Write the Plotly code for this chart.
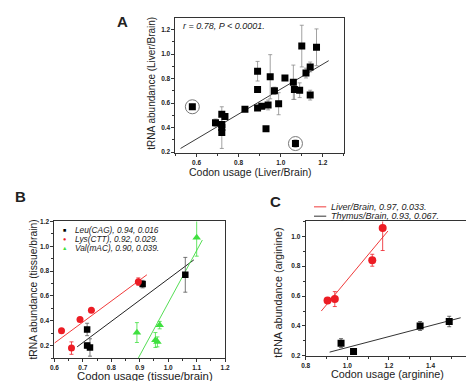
import plotly.graph_objects as go

W, H = 474, 381
FONT = "Liberation Sans, Arial, sans-serif"

def px(x):
    return x / W

def py(y):
    return 1 - y / H

# ---------------- Panel A data ----------------
a_x = [0.69, 0.72, 0.735, 0.72, 0.72, 0.72, 0.83, 0.89, 0.89, 0.89, 0.91, 0.93,
       0.94, 0.95, 0.97, 0.99, 1.02, 1.06, 1.065, 1.09, 1.10, 1.12, 1.14, 1.14, 1.17]
a_y = [0.44, 0.51, 0.49, 0.425, 0.40, 0.36, 0.55, 0.86, 0.71, 0.56, 0.575, 0.39,
       0.585, 0.815, 0.70, 0.595, 0.805, 0.77, 0.71, 0.705, 1.065, 0.845, 0.895, 0.665, 1.055]
a_err = [0.03, 0.06, 0.02, 0.02, 0.02, 0.13, 0.015, 0.08, 0.0, 0.02, 0.01, 0.01,
         0.04, 0.18, 0.03, 0.09, 0.02, 0.14, 0.08, 0.06, 0.17, 0.04, 0.04, 0.04, 0.15]
a_out_x = [0.58, 1.07]
a_out_y = [0.57, 0.27]
a_out_err = [0.02, 0.03]
a_fit_x = [0.524, 1.228]
a_fit_y = [0.23, 0.946]
a_xticks = [0.6, 0.8, 1.0, 1.2]
a_yticks = [0.2, 0.4, 0.6, 0.8, 1.0, 1.2]

# ---------------- Panel B data ----------------
b_leu_x = [0.715, 0.715, 0.725, 0.91, 1.06]
b_leu_y = [0.33, 0.20, 0.185, 0.695, 0.77]
b_leu_e = [0.05, 0.02, 0.07, 0.03, 0.14]
b_lys_x = [0.625, 0.66, 0.69, 0.73, 0.895]
b_lys_y = [0.32, 0.18, 0.41, 0.485, 0.715]
b_lys_e = [0.0, 0.05, 0.0, 0.0, 0.03]
b_val_x = [0.89, 0.955, 0.962, 0.97, 1.10]
b_val_y = [0.305, 0.245, 0.23, 0.365, 1.07]
b_val_e = [0.08, 0.06, 0.04, 0.03, 0.15]
b_leu_fit_x = [0.68, 1.09]
b_leu_fit_y = [0.19, 0.89]
b_lys_fit_x = [0.60, 0.925]
b_lys_fit_y = [0.22, 0.77]
b_val_fit_x = [0.895, 1.12]
b_val_fit_y = [0.10, 1.05]
b_xticks = [0.6, 0.7, 0.8, 0.9, 1.0, 1.1, 1.2]
b_yticks = [0.2, 0.4, 0.6, 0.8, 1.0, 1.2]
b_legend = ["Leu(CAG), 0.94, 0.016", "Lys(CTT), 0.92, 0.029.", "Val(mAC), 0.90, 0.039."]

# ---------------- Panel C data ----------------
c_liv_x = [0.905, 0.94, 1.12, 1.17]
c_liv_y = [0.57, 0.58, 0.84, 1.055]
c_liv_e = [0.0, 0.05, 0.04, 0.15]
c_thy_x = [0.97, 1.03, 1.35, 1.49]
c_thy_y = [0.285, 0.23, 0.40, 0.43]
c_thy_e = [0.03, 0.0, 0.03, 0.035]
c_liv_fit_x = [0.875, 1.195]
c_liv_fit_y = [0.50, 1.035]
c_thy_fit_x = [0.915, 1.545]
c_thy_fit_y = [0.225, 0.455]
c_xticks = [0.8, 1.0, 1.2, 1.4, 1.6]
c_yticks = [0.2, 0.4, 0.6, 0.8, 1.0]
c_legend = ["Liver/Brain, 0.97, 0.033.", "Thymus/Brain, 0.93, 0.067."]

RED = "#ec1c24"
GREEN = "#3fe03f"
GREY = "#8a8a8a"

fig = go.Figure()

def err(arr, color, w=2):
    return dict(type="data", array=arr, color=color, thickness=0.8, width=w, visible=True)

# Panel A
fig.add_trace(go.Scatter(x=a_fit_x, y=a_fit_y, mode="lines", line=dict(color="#222", width=0.9),
                         xaxis="x", yaxis="y", showlegend=False))
fig.add_trace(go.Scatter(x=a_x, y=a_y, mode="markers", error_y=err(a_err, GREY),
                         marker=dict(symbol="square", size=7, color="black"),
                         xaxis="x", yaxis="y", showlegend=False))
fig.add_trace(go.Scatter(x=a_out_x, y=a_out_y, mode="markers", error_y=err(a_out_err, GREY),
                         marker=dict(symbol="square", size=7, color="black"),
                         xaxis="x", yaxis="y", showlegend=False))
fig.add_trace(go.Scatter(x=a_out_x, y=a_out_y, mode="markers",
                         marker=dict(symbol="circle-open", size=14, color="#777", line=dict(width=1)),
                         xaxis="x", yaxis="y", showlegend=False))

# Panel B
for fx, fy, col in [(b_lys_fit_x, b_lys_fit_y, "#f03a3a"), (b_leu_fit_x, b_leu_fit_y, "#222"),
                    (b_val_fit_x, b_val_fit_y, "#55dd55")]:
    fig.add_trace(go.Scatter(x=fx, y=fy, mode="lines", line=dict(color=col, width=1),
                             xaxis="x2", yaxis="y2", showlegend=False))
fig.add_trace(go.Scatter(x=b_leu_x, y=b_leu_y, mode="markers", error_y=err(b_leu_e, "#555"),
                         marker=dict(symbol="square", size=6.5, color="black"),
                         xaxis="x2", yaxis="y2", showlegend=False))
fig.add_trace(go.Scatter(x=b_lys_x, y=b_lys_y, mode="markers", error_y=err(b_lys_e, RED),
                         marker=dict(symbol="circle", size=7, color=RED),
                         xaxis="x2", yaxis="y2", showlegend=False))
fig.add_trace(go.Scatter(x=b_val_x, y=b_val_y, mode="markers", error_y=err(b_val_e, GREEN),
                         marker=dict(symbol="triangle-up", size=7.5, color=GREEN),
                         xaxis="x2", yaxis="y2", showlegend=False))

# Panel C
fig.add_trace(go.Scatter(x=c_liv_fit_x, y=c_liv_fit_y, mode="lines", line=dict(color="#f03a3a", width=1),
                         xaxis="x3", yaxis="y3", showlegend=False))
fig.add_trace(go.Scatter(x=c_thy_fit_x, y=c_thy_fit_y, mode="lines", line=dict(color="#333", width=1),
                         xaxis="x3", yaxis="y3", showlegend=False))
fig.add_trace(go.Scatter(x=c_liv_x, y=c_liv_y, mode="markers", error_y=err(c_liv_e, RED),
                         marker=dict(symbol="circle", size=8, color=RED),
                         xaxis="x3", yaxis="y3", showlegend=False))
fig.add_trace(go.Scatter(x=c_thy_x, y=c_thy_y, mode="markers", error_y=err(c_thy_e, "#444"),
                         marker=dict(symbol="square", size=7, color="black"),
                         xaxis="x3", yaxis="y3", showlegend=False))

def axis(domain, rng, ticks, minor_dtick, anchor, fmt=".1f"):
    return dict(domain=domain, range=rng, anchor=anchor, tickvals=ticks, tickformat=fmt,
                showline=True, mirror=True, linecolor="#333", linewidth=1,
                ticks="outside", ticklen=3, tickwidth=0.8, tickcolor="#333",
                showgrid=False, zeroline=False,
                tickfont=dict(family=FONT, size=6.5, color="#222", weight="bold"),
                minor=dict(ticks="outside", ticklen=2, tickwidth=0.6, tickcolor="#333",
                           dtick=minor_dtick, tick0=0, showgrid=False))

fig.update_layout(
    width=W, height=H, autosize=False,
    margin=dict(l=0, r=0, t=0, b=0),
    paper_bgcolor="white", plot_bgcolor="white",
    font=dict(family=FONT, color="#222"),
    xaxis=axis([px(166), px(338)], [0.5, 1.3], a_xticks, 0.1, "y"),
    yaxis=axis([py(144), py(6)], [0.19, 1.295], a_yticks, 0.1, "x"),
    xaxis2=axis([px(42.3), px(216.7)], [0.6, 1.2], b_xticks, 0.05, "y2"),
    yaxis2=axis([py(352.5), py(213.3)], [0.1, 1.2], b_yticks, 0.1, "x2"),
    xaxis3=axis([px(299), px(469)], [0.8, 1.6], c_xticks, 0.1, "y3"),
    yaxis3=axis([py(350.3), py(213.3)], [0.2, 1.1], c_yticks, 0.1, "x3"),
)

ann = []
def text(x, y, t, size, xanchor="center", yanchor="middle", angle=0, color="#222", bold=False):
    ann.append(dict(x=px(x), y=py(y), xref="paper", yref="paper", text=t, showarrow=False,
                    xanchor=xanchor, yanchor=yanchor, textangle=angle,
                    font=dict(family=FONT, size=size, color=color, weight="bold" if bold else "normal")))

# panel labels
text(112, 10, "A", 15, bold=True)
text(8, 188, "B", 15, bold=True)
text(268, 193, "C", 15, bold=True)

# axis titles
text(243, 163, "Codon usage (Liver/Brain)", 10.5)
text(142, 73, "tRNA abundance (Liver/Brain)", 10, angle=-90)
text(134.5, 371, "Codon usage (tissue/brain)", 11.3)
text(20.7, 282.5, "tRNA abundance (tissue/brain)", 10.3, angle=-90)
text(383, 369, "Codon usage (arginine)", 10.8)
text(270.7, 286, "tRNA abundance (arginine)", 10.8, angle=-90)

# panel A stat
text(172, 14, "<i>r = 0.78, P < 0.0001.</i>", 9, xanchor="left")

# panel B legend
for i, (sym, col, lab) in enumerate(zip(["■", "●", "▲"], ["black", RED, GREEN], b_legend)):
    yy = 222 + i * 9.2
    text(53, yy, sym, 5.5, color=col)
    text(61, yy, "<i>" + lab + "</i>", 8.3, xanchor="left")

# panel C legend
shapes = []
for i, (col, lab) in enumerate(zip(["#f03a3a", "#333"], c_legend)):
    yy = 198.5 + i * 9.5
    shapes.append(dict(type="line", xref="paper", yref="paper", x0=px(307.5), x1=px(320),
                       y0=py(yy), y1=py(yy), line=dict(color=col, width=1)))
    text(323, yy, "<i>" + lab + "</i>", 9, xanchor="left")

fig.update_layout(annotations=ann, shapes=shapes)

fig.write_html("out.html")
